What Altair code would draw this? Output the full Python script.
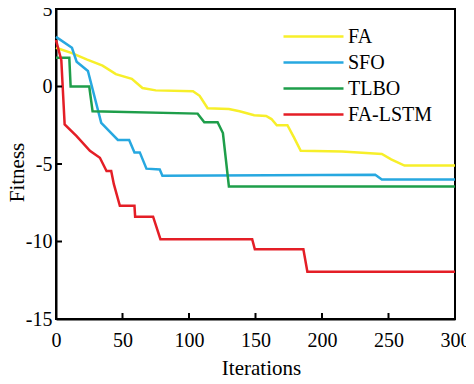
import altair as alt
import pandas as pd

series_names = ["FA", "SFO", "TLBO", "FA-LSTM"]
series_colors = ["#F7EF2A", "#27A8E0", "#1E9E4A", "#E41E26"]

fa_x = [0, 12, 23, 35, 45, 57, 65, 75, 103, 108, 114, 130, 138, 149, 158, 162, 166, 174, 179, 184, 215, 245, 252, 262, 300]
fa_y = [2.5, 2.15, 1.75, 1.35, 0.8, 0.5, -0.1, -0.25, -0.3, -0.6, -1.4, -1.45, -1.6, -1.85, -1.9, -2.1, -2.5, -2.5, -3.3, -4.15, -4.2, -4.35, -4.7, -5.1, -5.1]

sfo_x = [0, 12, 15.5, 24, 34, 46.5, 55, 59, 63, 68, 78, 80, 240, 245, 300]
sfo_y = [3.2, 2.5, 1.6, 1.0, -2.35, -3.45, -3.45, -4.25, -4.25, -5.3, -5.35, -5.75, -5.7, -6.0, -6.0]

tlbo_x = [0, 10, 11, 25, 27.5, 106.5, 111.5, 121.5, 125.5, 130, 300]
tlbo_y = [1.85, 1.85, 0, 0, -1.6, -1.75, -2.3, -2.3, -3.0, -6.45, -6.45]

lstm_x = [0, 4, 6.5, 15.5, 25.5, 33, 38, 41.5, 43.5, 48, 59, 59.5, 73, 78.5, 147.5, 149.5, 186, 189, 300]
lstm_y = [3.0, 1.7, -2.45, -3.2, -4.15, -4.6, -5.45, -5.45, -6.3, -7.7, -7.7, -8.4, -8.4, -9.85, -9.85, -10.5, -10.5, -11.95, -11.95]

x_ticks = [0, 50, 100, 150, 200, 250, 300]
y_ticks = [5, 0, -5, -10, -15]
x_inner_ticks = [50, 100, 150, 200, 250]
y_inner_ticks = [0, -5, -10]

rows = []
for name, xs, ys in [("FA", fa_x, fa_y), ("SFO", sfo_x, sfo_y), ("TLBO", tlbo_x, tlbo_y), ("FA-LSTM", lstm_x, lstm_y)]:
    for i, (a, b) in enumerate(zip(xs, ys)):
        rows.append({"series": name, "iter": a, "fit": b, "order": i})
df = pd.DataFrame(rows)

W, H = 399, 310
FONT = "Liberation Serif, Times New Roman, DejaVu Serif, serif"

x_scale = alt.Scale(domain=[0, 300], nice=False, zero=False)
y_scale = alt.Scale(domain=[-15, 5], nice=False, zero=False)

lines = alt.Chart(df).mark_line(strokeWidth=2.5).encode(
    x=alt.X("iter:Q", scale=x_scale, title="Iterations",
            axis=alt.Axis(values=x_ticks, labelExpr="'' + datum.value", labelFlush=False,
                          titleX=205, titleY=55, titleBaseline="alphabetic")),
    y=alt.Y("fit:Q", scale=y_scale, title="Fitness",
            axis=alt.Axis(values=y_ticks, labelExpr="'' + datum.value", labelFlush=False,
                          titleX=-29, titleY=163)),
    color=alt.Color("series:N", scale=alt.Scale(domain=series_names, range=series_colors),
                    legend=alt.Legend(title=None, orient="none", legendX=246, legendY=16,
                                      symbolType="M-3,0H3", symbolSize=400, symbolStrokeWidth=2.5,
                                      labelFont=FONT, labelFontSize=20, labelColor="black",
                                      labelFontWeight="normal",
                                      rowPadding=4, labelOffset=23)),
    order="order:Q",
)

xt = alt.Chart(pd.DataFrame({"t": x_inner_ticks})).mark_rule(color="black", strokeWidth=2).encode(
    x=alt.X("t:Q", scale=x_scale), y=alt.value(H), y2=alt.value(H - 6)
)
yt = alt.Chart(pd.DataFrame({"t": y_inner_ticks})).mark_rule(color="black", strokeWidth=2).encode(
    y=alt.Y("t:Q", scale=y_scale), x=alt.value(0), x2=alt.value(6)
)

chart = alt.layer(lines, xt, yt).properties(
    width=W, height=H,
    autosize=alt.AutoSizeParams(type="none"),
    padding={"left": 48, "top": 1, "right": 11, "bottom": 57},
).configure_view(stroke="black", strokeWidth=2).configure_axis(
    grid=False, ticks=False, tickSize=0, domainColor="black", domainWidth=2,
    labelFont=FONT, labelFontSize=20, labelColor="black",
    titleFont=FONT, titleFontSize=21, titleFontWeight="normal", titleColor="black",
).configure_axisX(labelPadding=11).configure_axisY(labelPadding=4)

chart.save("out.html", embed_options={"renderer": "svg", "actions": False})
